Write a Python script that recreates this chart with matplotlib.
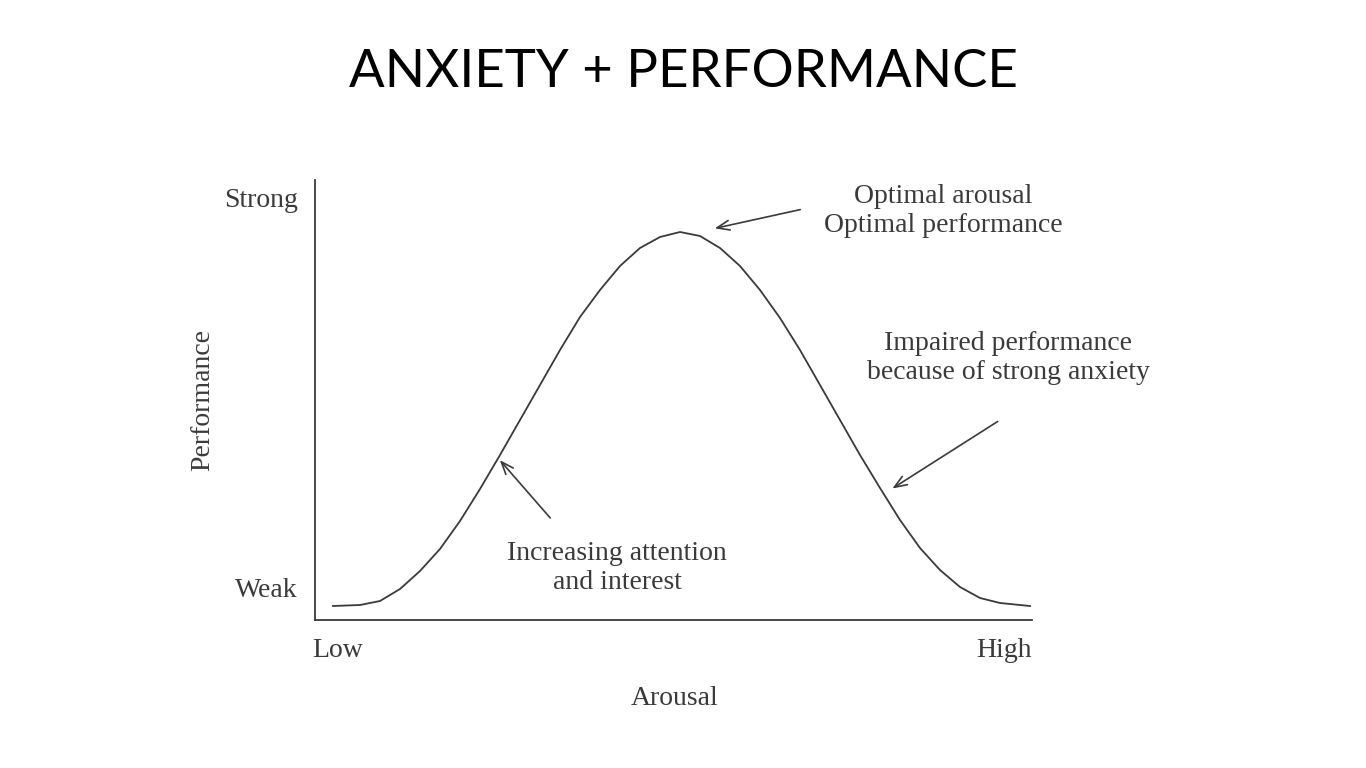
import matplotlib.pyplot as plt

# curve (pixel-like units, y grows downward)
curve_x = [333, 360, 380, 400, 420, 440, 460, 480, 500, 520, 540, 560, 580, 600, 620,
           640, 660, 680, 700, 720, 740, 760, 780, 800, 820, 840, 860, 880, 900, 920,
           940, 960, 980, 1000, 1030]
curve_y = [606, 605, 601, 589, 571, 549, 521, 489, 455, 420, 385, 350, 317, 290, 266,
           248, 237, 232, 236, 248, 266, 290, 318, 350, 385, 420, 455, 488, 520, 548,
           570, 587, 598, 603, 606]

serif = 'Liberation Serif'
ink = '#3a3a3a'

fig = plt.figure(figsize=(13.66, 7.68), dpi=100)
fig.text(0.5, 0.905, "ANXIETY + PERFORMANCE", ha='center', va='center',
         fontsize=38, family='Lato', color='black')

ax = fig.add_axes([315/1366, (768-620)/768, 717/1366, 440/768])
ax.set_xlim(315, 1032)
ax.set_ylim(620, 180)
ax.plot(curve_x, curve_y, color=ink, lw=1.3)
for s in ['top', 'right']:
    ax.spines[s].set_visible(False)
for s in ['left', 'bottom']:
    ax.spines[s].set_color(ink)
    ax.spines[s].set_linewidth(1.3)
ax.set_xticks([])
ax.set_yticks([])

kw = dict(family=serif, fontsize=20, color=ink)
ax.text(298, 200, "Strong", ha='right', va='center', **kw)
ax.text(298, 590, "Weak", ha='right', va='center', **kw)
ax.text(312, 650, "Low", ha='left', va='center', clip_on=False, **kw)
ax.text(1032, 650, "High", ha='right', va='center', clip_on=False, **kw)
ax.text(675, 698, "Arousal", ha='center', va='center', clip_on=False, **kw)
ax.text(203, 400, "Performance", ha='center', va='center', rotation=90, **kw)

ax.text(943, 211, "Optimal arousal\nOptimal performance", ha='center', va='center',
        linespacing=1.25, **kw)
ax.text(1008, 358, "Impaired performance\nbecause of strong anxiety", ha='center',
        va='center', linespacing=1.25, **kw)
ax.text(617, 568, "Increasing attention\nand interest", ha='center', va='center',
        linespacing=1.25, **kw)

arrow = dict(arrowstyle='->,head_length=0.9,head_width=0.35', color=ink, lw=1.2)
ax.annotate("", xy=(712, 229), xytext=(803, 209), arrowprops=arrow)
ax.annotate("", xy=(498, 458), xytext=(552, 520), arrowprops=arrow)
ax.annotate("", xy=(890, 490), xytext=(1000, 420), arrowprops=arrow)

fig.savefig('out.png', dpi=100)
